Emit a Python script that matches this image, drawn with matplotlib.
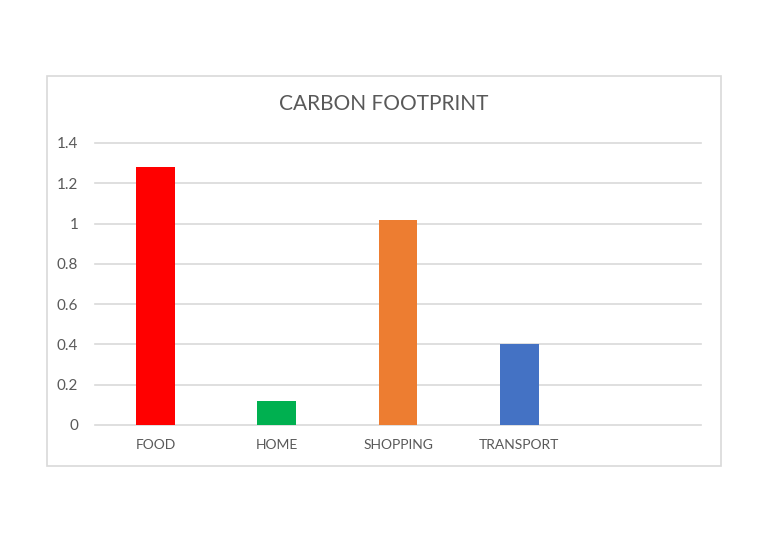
import matplotlib.pyplot as plt
from matplotlib.patches import Rectangle

categories = ['FOOD', 'HOME', 'SHOPPING', 'TRANSPORT', '']
values = [1.28, 0.12, 1.02, 0.40, 0]
colors = ['#FF0000', '#00B050', '#ED7D31', '#4472C4', '#FFFFFF']
yticks = [0, 0.2, 0.4, 0.6, 0.8, 1, 1.2, 1.4]
ytick_labels = ['0', '0.2', '0.4', '0.6', '0.8', '1', '1.2', '1.4']

plt.rcParams['font.family'] = ['Lato', 'DejaVu Sans']
text_gray = '#595959'
grid_gray = '#D9D9D9'

fig = plt.figure(figsize=(7.68, 5.43), dpi=100)

# chart frame
fig.patches.append(Rectangle((47 / 768, 1 - 466 / 543), 674 / 768, 390 / 543,
                             transform=fig.transFigure, fill=False,
                             edgecolor=grid_gray, linewidth=1.2))

ax = fig.add_axes([95 / 768, 1 - 425 / 543, 606 / 768, 282 / 543])
x = list(range(len(categories)))
ax.bar(x[:4], values[:4], width=0.32, color=colors[:4], zorder=3)
ax.set_xlim(-0.5, len(categories) - 0.5)
ax.set_ylim(0, 1.4)
ax.set_xticks(x[:4])
ax.set_xticklabels(categories[:4], fontsize=10, color=text_gray)
ax.set_yticks(yticks)
ax.set_yticklabels(ytick_labels, fontsize=11, color=text_gray)
ax.tick_params(axis='both', length=0)
ax.tick_params(axis='y', pad=12)
ax.tick_params(axis='x', pad=10)
for yv in yticks:
    ax.axhline(yv, color=grid_gray, linewidth=1.2, zorder=0, clip_on=False)
for s in ax.spines.values():
    s.set_visible(False)

fig.text(0.5, 1 - 104 / 543, 'CARBON FOOTPRINT', ha='center', va='center',
         fontsize=15, color=text_gray)

fig.savefig('out.png', dpi=100)
